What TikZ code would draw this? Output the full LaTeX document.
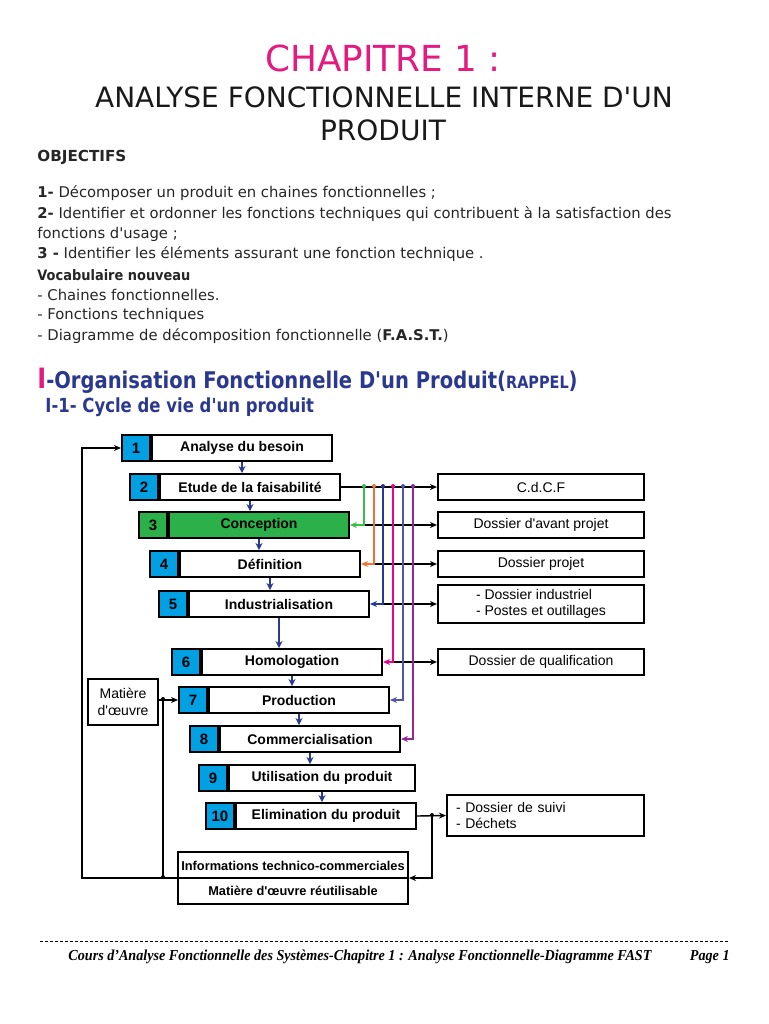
\documentclass[tikz,border=0pt]{standalone}
\usepackage{fontspec}
\usepackage{tikz}
\setmainfont{Liberation Sans}
\newfontfamily\arial{Liberation Sans}
\newfontfamily\comicwide{DejaVu Sans}
\newfontfamily\comic[FakeStretch=0.9]{DejaVu Sans}
\newfontfamily\comicnarrow[FakeStretch=0.85]{DejaVu Sans}
\newfontfamily\footfont[FakeStretch=0.93]{Liberation Serif}
\newcommand{\setsize}[1]{\fontsize{#1}{#1}\selectfont}
\newcommand{\cellwidth}{14pt}
\newcommand{\cellheight}{13pt}
\definecolor{myMagenta}{RGB}{228,26,129}
\definecolor{myBlue}{RGB}{43,56,143}
\definecolor{cellBlue}{RGB}{0,160,227}
\definecolor{cellGreen}{RGB}{43,176,74}
\definecolor{arrowBlue}{RGB}{43,57,144}
\definecolor{lineGreen}{RGB}{57,190,74}
\definecolor{lineOrange}{RGB}{241,112,52}
\definecolor{lineBlue}{RGB}{38,56,150}
\definecolor{lineMagenta}{RGB}{236,0,140}
\definecolor{lineSlate}{RGB}{82,86,166}
\definecolor{linePurple}{RGB}{150,40,150}
\usetikzlibrary{arrows.meta,calc,positioning}
\tikzset{
  >={Stealth[length=3.5pt,width=3pt]},
  numcell/.style={draw,line width=1pt,fill=cellBlue,minimum width=\cellwidth,minimum height=\cellheight,inner sep=0,font=\arial\bfseries\setsize{7.5}},
  labcell/.style={draw,line width=1pt,fill=white,minimum width=90pt,minimum height=\cellheight,inner sep=0,font=\arial\bfseries\setsize{7}},
  docbox/.style={draw,line width=1pt,minimum width=103pt,minimum height=\cellheight,inner sep=0,font=\arial\setsize{7}},
  line/.style={draw,line width=0.7pt,->},
  down/.style={draw=arrowBlue,line width=0.8pt,-{Stealth[length=3.5pt,width=3.5pt]},arrowBlue},
  dot/.style={circle,fill,inner sep=0,minimum size=2pt},
  txt/.style={anchor=west,inner sep=0,text=black!85,font=\comicwide\setsize{7.4}},
}
\begin{document}
\begin{tikzpicture}[x=0.5pt,y=-0.5pt]
  \useasboundingbox[fill=white] (0,0) rectangle (768,1024);
  % titles
  \node[inner sep=0,text=myMagenta,font=\comicwide\setsize{17.9}] (chap) at (383,58) {CHAPITRE 1 :};
  \node[inner sep=0,text=black!90,font=\comicwide\setsize{14}] (title) at (384,97) {ANALYSE FONCTIONNELLE INTERNE D'UN};
  \node[inner sep=0,text=black!90,font=\comicwide\setsize{14}] (title2) at (383,130) {PRODUIT};
  \node[txt,font=\comicwide\bfseries\setsize{7.6}] (obj) at (37,157) {OBJECTIFS};
  \node[txt] (ob1) at (37,193) {\textbf{1-} Décomposer un produit en chaines fonctionnelles ;};
  \node[txt] (ob2) at (37,214) {\textbf{2-} Identifier et ordonner les fonctions techniques qui contribuent à la satisfaction des};
  \node[txt] (ob2b) at (37,234) {fonctions d'usage ;};
  \node[txt] (ob3) at (37,254) {\textbf{3 -} Identifier les éléments assurant une fonction technique .};
  \node[txt,font=\comic\bfseries\setsize{7.2}] (voc) at (37,275) {Vocabulaire nouveau};
  \node[txt] (voc1) at (37,295) {- Chaines fonctionnelles.};
  \node[txt] (voc2) at (37,315) {- Fonctions techniques};
  \node[txt] (voc3) at (37,336) {- Diagramme de décomposition fonctionnelle (\textbf{F.A.S.T.})};
  \node[txt,text=myBlue,font=\comicnarrow\bfseries\setsize{11.5}] (sec) at (37,381) {\textcolor{myMagenta}{\setsize{14}I}-Organisation Fonctionnelle D'un Produit({\setsize{8.5}RAPPEL})};
  \node[txt,text=myBlue,font=\comicnarrow\bfseries\setsize{9.7}] (subsec) at (45,407) {I-1- Cycle de vie d'un produit};
  % life cycle boxes
  \node[numcell,anchor=north west] (n1) at (121,434) {1};
  \node[labcell,anchor=west] (l1) at (n1.east) {Analyse du besoin};
  \node[numcell,anchor=north west] (n2) at (129,473) {2};
  \node[labcell,anchor=west] (l2) at (n2.east) {Etude de la faisabilité};
  \node[numcell,anchor=north west,fill=cellGreen] (n3) at (138,511) {3};
  \node[labcell,anchor=west,fill=cellGreen] (l3) at (n3.east) {Conception};
  \node[numcell,anchor=north west] (n4) at (149,550) {4};
  \node[labcell,anchor=west] (l4) at (n4.east) {Définition};
  \node[numcell,anchor=north west] (n5) at (158,590) {5};
  \node[labcell,anchor=west] (l5) at (n5.east) {Industrialisation};
  \node[numcell,anchor=north west] (n6) at (171,648) {6};
  \node[labcell,anchor=west] (l6) at (n6.east) {Homologation};
  \node[numcell,anchor=north west] (n7) at (178,686) {7};
  \node[labcell,anchor=west] (l7) at (n7.east) {Production};
  \node[numcell,anchor=north west] (n8) at (189,725) {8};
  \node[labcell,anchor=west] (l8) at (n8.east) {Commercialisation};
  \node[numcell,anchor=north west] (n9) at (198,764) {9};
  \node[labcell,anchor=west,minimum width=93pt] (l9) at (n9.east) {Utilisation du produit};
  \node[numcell,anchor=north west] (n10) at (205,802) {10};
  \node[labcell,anchor=west] (l10) at (n10.east) {Elimination du produit};
  % documents
  \node[docbox,anchor=north west] (d1) at (437,473) {C.d.C.F};
  \node[docbox,anchor=north west] (d2) at (437,511) {Dossier d'avant projet};
  \node[docbox,anchor=north west] (d3) at (437,550) {Dossier projet};
  \node[docbox,anchor=north west,minimum height=19pt,align=left] (d4) at (437,584) {- Dossier industriel\\[1pt]- Postes et outillages};
  \node[docbox,anchor=north west] (d5) at (437,648) {Dossier de qualification};
  \node[docbox,anchor=north west,minimum width=98.5pt,minimum height=20.5pt,text width=89.5pt,inner xsep=4.5pt,align=left] (d6) at (446,794) {- Dossier de suivi\\[1pt]- Déchets};
  \node[draw,line width=1pt,anchor=north west,minimum width=35pt,minimum height=23pt,inner sep=0,align=center,font=\arial\fontsize{7}{8.5}\selectfont] (mat) at (87,678) {Matière\\d'œuvre};
  \node[draw,line width=1pt,anchor=north west,minimum width=115pt,minimum height=26pt,inner sep=0,align=center,font=\arial\bfseries\fontsize{6.4}{12.5}\selectfont] (recyc) at (177,851) {Informations technico-commerciales\\Matière d'œuvre réutilisable};
  % flow down
  \foreach \a/\b in {1/2,2/3,3/4,4/5,5/6,6/7,7/8,8/9,9/10}
    \draw[down] (l\a.south) -- (l\a.south |- l\b.north);
  % documents out
  \draw[line] (l2.east) -- (d1.west);
  \foreach \xx/\tgt/\doc in {364/l3/d2,374/l4/d3,383/l5/d4,393/l6/d5}
    \draw[line] (\xx,0 |- \tgt.east) -- (\doc.west);
  \foreach \xx/\tgt/\col in {364/l3/lineGreen,374/l4/lineOrange,383/l5/lineBlue,393/l6/lineMagenta,403/l7/lineSlate,413/l8/linePurple} {
    \node[dot,\col] (tap\xx) at (\xx,486) {};
    \draw[line,\col] (tap\xx.center) |- (\tgt.east);
  }
  % end of life and loop back
  \node[dot] (j10) at (432,815) {};
  \draw[line] (l10.east) -- (d6.west);
  \draw[line] (j10.center) |- (recyc.east);
  \draw[line width=0.7pt] (recyc.east) -- (recyc.west);
  \draw[line] (recyc.west) -- ++(-95,0) |- (n1.west);
  \node[dot] (jb) at (163,877) {};
  \node[dot] (jm) at (163,699) {};
  \draw[line width=0.7pt] (jb.center) -- (jm.center);
  \draw[line] (mat.east |- n7.west) -- (n7.west);
  % footer
  \draw[line width=0.4pt,dash pattern=on 1.5pt off 1pt] (40,941) -- (730,941);
  \node[anchor=west,inner sep=0,font=\footfont\bfseries\itshape\setsize{7.6}] (foot) at (68,957) {Cours d’Analyse Fonctionnelle des Systèmes-Chapitre 1 : Analyse Fonctionnelle-Diagramme FAST};
  \node[anchor=east,inner sep=0,font=\footfont\bfseries\itshape\setsize{7.6}] (page) at (730,957) {Page 1};
\end{tikzpicture}
\end{document}
